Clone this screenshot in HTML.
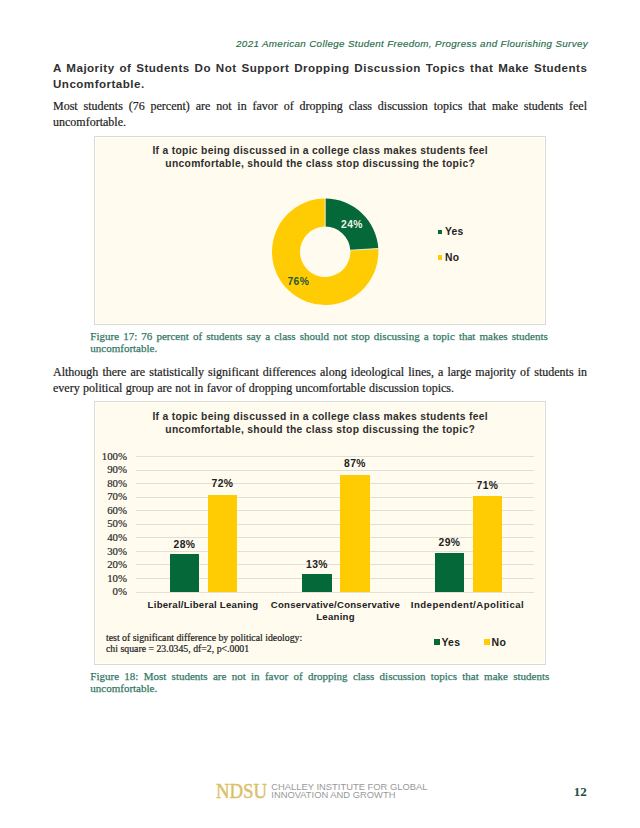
<!DOCTYPE html>
<html><head><meta charset="utf-8">
<style>
*{margin:0;padding:0;box-sizing:border-box}
html,body{width:640px;height:828px;background:#fff;overflow:hidden}
body{position:relative;font-family:"Liberation Sans",sans-serif;color:#222}
.a{position:absolute;white-space:nowrap}
.j{text-align:justify;text-align-last:justify;white-space:normal}
.ser{font-family:"Liberation Serif",serif}
.hdr{left:200px;top:38px;width:388px;font-style:italic;font-size:9.8px;letter-spacing:0.35px;line-height:11px;color:#1f6d4a;text-align:right;-webkit-text-stroke:0.15px #1f6d4a}
.h1{left:53px;width:534.3px;font-weight:bold;font-size:11.6px;letter-spacing:0.47px;line-height:15px;color:#303030}
.p{left:53px;width:534px;font-size:12px;word-spacing:0.4px;line-height:15px;color:#222;-webkit-text-stroke:0.2px #222}
.cap{left:90.3px;width:457.5px;font-size:11px;line-height:12px;color:#347868;-webkit-text-stroke:0.25px #347868}
.box{position:absolute;border:1px solid #dcdbd2;background:#fffbee;box-shadow:inset 0 0 0 1px #fffef8}
.ct{font-weight:bold;font-size:10.3px;letter-spacing:0.32px;text-indent:0.32px;line-height:13px;color:#2e2e2e;text-align:center;left:94px;width:452px}
.lg{font-weight:bold;font-size:10.3px;letter-spacing:0.2px;line-height:10px;color:#222}
.sq{position:absolute}
.g{background:#056838}
.y{background:#ffcb02}
.yl{position:absolute;right:513px;font-size:10.8px;line-height:11px;color:#2a2a2a;text-align:right;-webkit-text-stroke:0.2px #2a2a2a}
.gl{position:absolute;left:136px;width:398px;height:1px;background:#e3dfd2}
.bar{position:absolute;width:29.5px}
.bl{position:absolute;font-weight:bold;font-size:10.3px;letter-spacing:0.4px;line-height:10px;color:#222;text-align:center;width:40px;text-indent:0.4px}
.cat{position:absolute;font-weight:bold;font-size:9.6px;letter-spacing:0.25px;line-height:12.5px;color:#222;text-align:center;width:140px}
</style></head>
<body>
<div class="a hdr">2021 American College Student Freedom, Progress and Flourishing Survey</div>

<div class="a j h1" style="top:60px">A Majority of Students Do Not Support Dropping Discussion Topics that Make Students</div>
<div class="a h1" style="top:76px">Uncomfortable.</div>

<div class="a j p ser" style="top:99px">Most students (76 percent) are not in favor of dropping class discussion topics that make students feel</div>
<div class="a p ser" style="top:115px">uncomfortable.</div>

<!-- Chart 1 -->
<div class="box" style="left:94px;top:136px;width:451.5px;height:189px"></div>
<div class="a ct" style="top:144px">If a topic being discussed in a college class makes students feel</div>
<div class="a ct" style="top:157px">uncomfortable, should the class stop discussing the topic?</div>

<svg class="a" style="left:0;top:0" width="640" height="828" viewBox="0 0 640 828">
  <g transform="translate(325.2,251.8)">
    <path d="M0,-53.2 A53.2,53.2 0 1 0 53.095,-3.340 L25.150,-1.582 A25.2,25.2 0 1 1 0,-25.2 Z" fill="#ffcb02"/>
    <path d="M0,-53.2 A53.2,53.2 0 0 1 53.095,-3.340 L25.150,-1.582 A25.2,25.2 0 0 0 0,-25.2 Z" fill="#056838"/>
    <line x1="0" y1="-53.7" x2="0" y2="-24.7" stroke="#fffbee" stroke-width="0.8"/>
    <line x1="24.647" y1="-1.551" x2="53.626" y2="-3.374" stroke="#fffbee" stroke-width="0.8"/>
  </g>
</svg>
<div class="a bl" style="left:331.8px;top:220.3px;color:#eef3e6">24%</div>
<div class="a bl" style="left:278.2px;top:277px;color:#1d5a32">76%</div>

<div class="sq g" style="left:437.8px;top:229.8px;width:4.5px;height:4.3px"></div>
<div class="a lg" style="left:445px;top:227.3px">Yes</div>
<div class="sq y" style="left:437.8px;top:255.4px;width:4.5px;height:4.2px"></div>
<div class="a lg" style="left:445px;top:252.8px">No</div>

<div class="a j cap ser" style="top:330px">Figure 17: 76 percent of students say a class should not stop discussing a topic that makes students</div>
<div class="a cap ser" style="top:342px">uncomfortable.</div>

<div class="a j p ser" style="top:365px">Although there are statistically significant differences along ideological lines, a large majority of students in</div>
<div class="a p ser" style="top:381px">every political group are not in favor of dropping uncomfortable discussion topics.</div>

<!-- Chart 2 -->
<div class="box" style="left:94px;top:401px;width:451.5px;height:264px"></div>
<div class="a ct" style="top:410px">If a topic being discussed in a college class makes students feel</div>
<div class="a ct" style="top:423px">uncomfortable, should the class stop discussing the topic?</div>

<div class="gl" style="top:456.00px"></div>
<div class="gl" style="top:469.56px"></div>
<div class="gl" style="top:483.12px"></div>
<div class="gl" style="top:496.68px"></div>
<div class="gl" style="top:510.24px"></div>
<div class="gl" style="top:523.80px"></div>
<div class="gl" style="top:537.36px"></div>
<div class="gl" style="top:550.92px"></div>
<div class="gl" style="top:564.48px"></div>
<div class="gl" style="top:578.04px"></div>
<div class="gl" style="top:591.60px"></div>

<div class="yl ser" style="top:450.66px">100%</div>
<div class="yl ser" style="top:464.22px">90%</div>
<div class="yl ser" style="top:477.78px">80%</div>
<div class="yl ser" style="top:491.34px">70%</div>
<div class="yl ser" style="top:504.90px">60%</div>
<div class="yl ser" style="top:518.46px">50%</div>
<div class="yl ser" style="top:532.02px">40%</div>
<div class="yl ser" style="top:545.58px">30%</div>
<div class="yl ser" style="top:559.14px">20%</div>
<div class="yl ser" style="top:572.70px">10%</div>
<div class="yl ser" style="top:586.26px">0%</div>

<div class="bar g" style="left:169.5px;top:554.20px;height:37.80px"></div>
<div class="bar y" style="left:207.5px;top:494.80px;height:97.20px"></div>
<div class="bar g" style="left:302px;top:574.45px;height:17.55px"></div>
<div class="bar y" style="left:340px;top:474.55px;height:117.45px"></div>
<div class="bar g" style="left:434.5px;top:552.85px;height:39.15px"></div>
<div class="bar y" style="left:472.5px;top:496.15px;height:95.85px"></div>

<div class="bl" style="left:164.25px;top:539.62px">28%</div>
<div class="bl" style="left:202.25px;top:479.42px">72%</div>
<div class="bl" style="left:296.75px;top:560.22px">13%</div>
<div class="bl" style="left:334.75px;top:459.32px">87%</div>
<div class="bl" style="left:429.25px;top:538.22px">29%</div>
<div class="bl" style="left:467.25px;top:480.92px">71%</div>

<div class="cat" style="left:133px;top:598.7px">Liberal/Liberal Leaning</div>
<div class="cat" style="left:265.5px;top:598.6px">Conservative/Conservative<br>Leaning</div>
<div class="cat" style="left:397.5px;top:598.7px;letter-spacing:0.48px">Independent/Apolitical</div>

<div class="a ser" style="left:106px;top:632px;font-size:9.8px;line-height:11.2px;color:#222;-webkit-text-stroke:0.2px #222">test of significant difference by political ideology:<br>chi square = 23.0345, df=2, p&lt;.0001</div>

<div class="sq g" style="left:434px;top:639.3px;width:6.1px;height:5.9px"></div>
<div class="a lg" style="left:441.5px;top:637px;font-size:10.5px">Yes</div>
<div class="sq y" style="left:484px;top:639.3px;width:6px;height:6px"></div>
<div class="a lg" style="left:491.6px;top:637px;font-size:10.5px">No</div>

<div class="a j cap ser" style="top:670px;width:459px">Figure 18: Most students are not in favor of dropping class discussion topics that make students</div>
<div class="a cap ser" style="top:682px">uncomfortable.</div>

<!-- Footer -->
<div class="a ser" style="left:215.6px;top:781.2px;font-size:20.3px;line-height:20px;color:#dcc065;-webkit-text-stroke:0.4px #dcc065;transform:scaleX(0.925);transform-origin:0 0">NDSU</div>
<div class="a" style="left:271.3px;top:783.1px;font-size:9.4px;line-height:7.7px;color:#999">CHALLEY INSTITUTE FOR GLOBAL<br>INNOVATION AND GROWTH</div>
<div class="a ser" style="left:573.8px;top:785px;font-weight:bold;font-size:13px;line-height:13px;color:#1f4f40">12</div>
</body></html>
